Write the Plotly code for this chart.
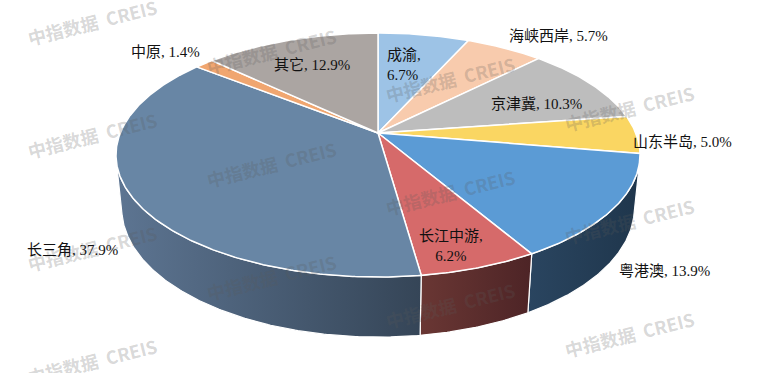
import numpy as np
import plotly.graph_objects as go

# ---------------- data ----------------
regions = ["成渝", "海峡西岸", "京津冀", "山东半岛", "粤港澳", "长江中游", "长三角", "中原", "其它"]
shares = [6.7, 5.7, 10.3, 5.0, 13.9, 6.2, 37.9, 1.4, 12.9]
label_texts = ["成渝,<br>6.7%", "海峡西岸, 5.7%", "京津冀, 10.3%", "山东半岛, 5.0%", "粤港澳, 13.9%",
               "长江中游,<br>6.2%", "长三角, 37.9%", "中原, 1.4%", "其它, 12.9%"]

# ---------------- styles ----------------
top_colors = ["#9DC3E6", "#F8CBAD", "#BDBDBD", "#FAD662", "#5B9BD5",
              "#D66A6A", "#6886A5", "#F0A670", "#ABA5A2"]
wall_colors = [("#7fa0c0", "#6a8aaa"), ("#c9a48c", "#b89480"), ("#9a9a9a", "#888888"),
               ("#c9a94e", "#b89a45"), ("#2a4560", "#1f364c"),
               ("#6a3734", "#4d2426"), ("#5d7592", "#354557"),
               ("#c48a5e", "#b07a50"), ("#8a8582", "#7a7573")]
label_pos = [(385, 65, "left", "center"), (558, 36, "center", "center"), (536, 104, "center", "center"),
             (682, 142, "center", "center"), (664, 270, "center", "center"),
             (451, 246, "center", "center"), (72, 250, "center", "center"),
             (165, 52, "center", "center"), (312, 64, "center", "center")]

W, H = 776, 373
CX, CY = 378, 133          # pie vertex in pixels
S_A = 0.458                # sin of tilt
C_A = np.sqrt(1 - S_A ** 2)
D = 5.545 * C_A            # perspective distance
F = 262 * np.sqrt(D ** 2 - C_A ** 2)
THICK = 0.2344


def project(theta_deg, Y):
    th = np.radians(theta_deg)
    X = np.sin(th)
    Z = np.cos(th)
    yp = Z * S_A + Y * C_A
    zp = Z * C_A - Y * S_A
    return CX + F * X / (D + zp), CY - F * yp / (D + zp)


# cumulative angles, clockwise from 12 o'clock
total = sum(shares)
bounds = np.concatenate([[0], np.cumsum(shares) / total * 360])

vis0 = np.degrees(np.arccos(-1 / (D * C_A)))
vis1 = 360 - vis0

fig = go.Figure()

# walls
for i, name in enumerate(regions):
    a0, a1 = max(bounds[i], vis0), min(bounds[i + 1], vis1)
    if a1 <= a0:
        continue
    th = np.linspace(a0, a1, max(int((a1 - a0) * 2), 2))
    xt, yt = project(th, 0.0)
    xb, yb = project(th[::-1], -THICK)
    xs = np.concatenate([xt, xb, xt[:1]])
    ys = np.concatenate([yt, yb, yt[:1]])
    fig.add_trace(go.Scatter(
        x=xs, y=ys, mode="lines", fill="toself",
        line=dict(color="white", width=1.2),
        fillgradient=dict(type="horizontal",
                          colorscale=[[0, wall_colors[i][0]], [1, wall_colors[i][1]]]),
        hoverinfo="skip", showlegend=False))

# top faces
for i, name in enumerate(regions):
    a0, a1 = bounds[i], bounds[i + 1]
    th = np.linspace(a0, a1, max(int((a1 - a0) * 2), 2))
    xt, yt = project(th, 0.0)
    xs = np.concatenate([[CX], xt, [CX]])
    ys = np.concatenate([[CY], yt, [CY]])
    fig.add_trace(go.Scatter(
        x=xs, y=ys, mode="lines", fill="toself", fillcolor=top_colors[i],
        line=dict(color="white", width=1.5),
        hoverinfo="skip", showlegend=False, name=name))

annotations = []
# watermark
for k in range(5):
    for j in range(-1, 4):
        x = 92 + 179 * k
        y = 22 + 28.5 * k + 113 * j
        if -30 < y < H + 30:
            annotations.append(dict(
                x=x, y=y, xref="x", yref="y", text="中指数据  CREIS", showarrow=False,
                textangle=-14, font=dict(family="Noto Sans CJK SC", size=18,
                                         color="rgba(90,90,90,0.24)", weight="bold"),
                xanchor="center", yanchor="middle"))

# labels
for i, t in enumerate(label_texts):
    x, y, xa, al = label_pos[i]
    annotations.append(dict(
        x=x, y=y, xref="x", yref="y", text=t, showarrow=False,
        xanchor=xa, yanchor="middle", align="left" if xa == "left" else "center",
        font=dict(family="Liberation Serif, Noto Sans CJK SC", size=15, color="#111111")))

fig.update_layout(
    width=W, height=H, margin=dict(l=0, r=0, t=0, b=0),
    paper_bgcolor="white", plot_bgcolor="white",
    xaxis=dict(range=[0, W], visible=False, fixedrange=True),
    yaxis=dict(range=[H, 0], visible=False, fixedrange=True),
    annotations=annotations, showlegend=False)

fig.write_html("out.html")
